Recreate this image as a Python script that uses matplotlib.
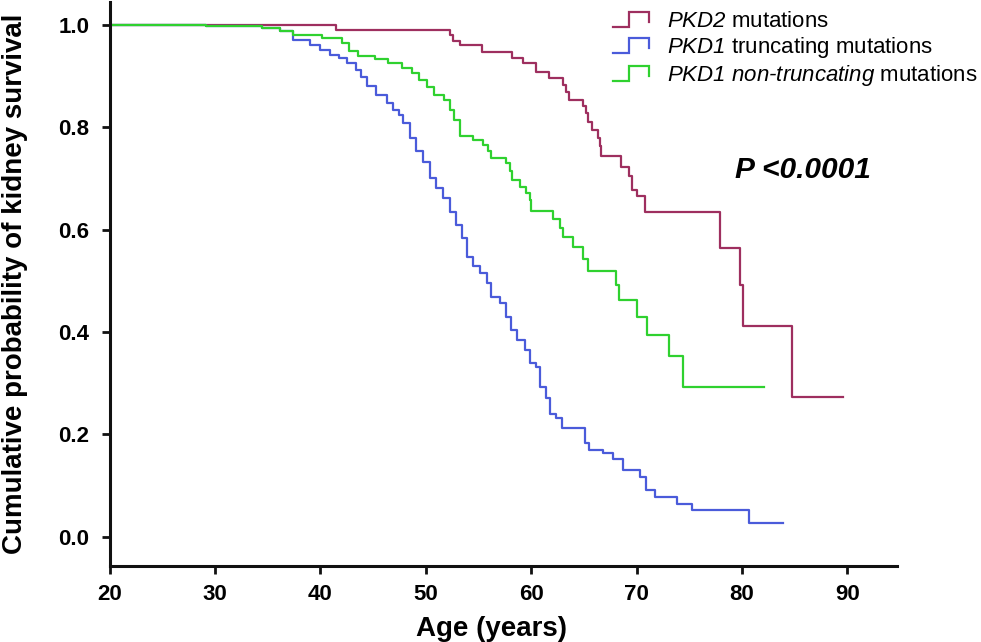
import matplotlib
matplotlib.use("Agg")
import matplotlib.pyplot as plt
from matplotlib.lines import Line2D
from matplotlib.legend_handler import HandlerBase

# ---------------- data ----------------
pkd2_age = [41.5, 52.3, 52.6, 53.2, 55.3, 58.2, 59.2, 60.5, 61.7, 63.0,
            63.3, 63.6, 64.9, 65.2, 65.4, 65.8, 66.3, 66.5, 66.6, 68.5,
            69.3, 69.6, 70.0, 70.8, 77.9, 79.8, 80.1, 84.7]
pkd2_surv = [0.991, 0.981, 0.968, 0.960, 0.947, 0.935, 0.925, 0.909, 0.896, 0.883,
             0.870, 0.854, 0.841, 0.828, 0.811, 0.795, 0.779, 0.763, 0.743, 0.723,
             0.704, 0.678, 0.665, 0.634, 0.564, 0.492, 0.411, 0.273]
pkd2_last = 89.6

trunc_age = [29.2, 34.5, 36.2, 37.4, 39.0, 40.0, 40.9, 41.8, 42.5, 43.4,
             43.9, 44.4, 45.3, 46.3, 46.9, 47.5, 47.8, 48.5, 49.1, 49.7,
             50.4, 51.0, 51.6, 52.3, 52.9, 53.4, 53.9, 54.5, 55.1, 55.8,
             56.2, 57.0, 57.6, 58.1, 58.7, 59.4, 59.9, 60.5, 60.8, 61.4,
             61.8, 62.4, 62.9, 65.1, 65.5, 66.8, 67.8, 68.7, 70.3, 70.9,
             71.7, 73.8, 75.3, 80.7]
trunc_surv = [0.998, 0.994, 0.988, 0.971, 0.961, 0.952, 0.942, 0.935, 0.925, 0.912,
              0.899, 0.880, 0.864, 0.847, 0.834, 0.825, 0.808, 0.779, 0.753, 0.733,
              0.701, 0.681, 0.662, 0.635, 0.609, 0.583, 0.547, 0.528, 0.515, 0.495,
              0.469, 0.456, 0.430, 0.404, 0.385, 0.365, 0.339, 0.332, 0.293, 0.270,
              0.240, 0.232, 0.212, 0.183, 0.170, 0.163, 0.151, 0.130, 0.117, 0.091,
              0.078, 0.064, 0.052, 0.026]
trunc_last = 83.9

nontrunc_age = [29.2, 34.5, 36.2, 37.4, 40.2, 42.1, 42.7, 43.6, 45.2, 46.4,
                47.7, 48.7, 49.4, 50.1, 50.8, 51.7, 52.3, 52.7, 53.2, 54.5,
                55.4, 55.9, 56.2, 57.6, 58.0, 58.2, 58.9, 59.5, 59.9, 60.0,
                62.1, 62.7, 63.0, 64.0, 64.9, 65.4, 68.0, 68.3, 70.0, 71.0,
                73.1, 74.4]
nontrunc_surv = [0.998, 0.994, 0.988, 0.981, 0.974, 0.964, 0.949, 0.940, 0.934, 0.925,
                 0.915, 0.907, 0.893, 0.879, 0.864, 0.853, 0.834, 0.815, 0.783, 0.776,
                 0.766, 0.753, 0.740, 0.730, 0.714, 0.697, 0.684, 0.671, 0.658, 0.637,
                 0.621, 0.603, 0.585, 0.566, 0.543, 0.520, 0.492, 0.463, 0.430, 0.394,
                 0.352, 0.293]
nontrunc_last = 82.1

start_age = 20
series_labels = [r"$\mathsf{PKD2}$ mutations",
                 r"$\mathsf{PKD1}$ truncating mutations",
                 "$\\mathsf{PKD1\\ non\u2010truncating}$ mutations"]
x_ticks = [20, 30, 40, 50, 60, 70, 80, 90]
y_ticks = [0.0, 0.2, 0.4, 0.6, 0.8, 1.0]
p_text = "P <0.0001"

# ---------------- style ----------------
plt.rcParams['font.family'] = ['Liberation Sans', 'DejaVu Sans']
plt.rcParams['mathtext.fontset'] = 'custom'
plt.rcParams['mathtext.rm'] = 'Liberation Sans'
plt.rcParams['mathtext.it'] = 'Liberation Sans:italic'
plt.rcParams['mathtext.sf'] = 'Liberation Sans:italic'
plt.rcParams['mathtext.bf'] = 'Liberation Sans:bold'

col_pkd2 = "#9e2f5f"
col_trunc = "#4a5bda"
col_nontrunc = "#2fd12f"
lw = 1.6


class HandlerStep(HandlerBase):
    def create_artists(self, legend, orig_handle, xdescent, ydescent,
                       width, height, fontsize, trans):
        x0, y0 = -xdescent, -ydescent
        xs = [x0, x0 + 0.45 * width, x0 + 0.45 * width, x0 + width, x0 + width]
        ys = [y0 + 0.05 * height, y0 + 0.05 * height, y0 + 0.95 * height,
              y0 + 0.95 * height, y0 + 0.35 * height]
        ln = Line2D(xs, ys, color=orig_handle.get_color(),
                    lw=orig_handle.get_linewidth(), solid_joinstyle='miter')
        ln.set_transform(trans)
        return [ln]


def km_xy(ages, surv, last):
    xs = [start_age] + list(ages) + [last]
    ys = [1.0] + list(surv) + [surv[-1]]
    return xs, ys


fig = plt.figure(figsize=(9.81, 6.42), dpi=100)
ax = fig.add_axes([109.5 / 981, 1 - 565.7 / 642, (897 - 109.5) / 981, (565.7 - 2) / 642])

handles = []
for ages, surv, last, c in [(pkd2_age, pkd2_surv, pkd2_last, col_pkd2),
                            (trunc_age, trunc_surv, trunc_last, col_trunc),
                            (nontrunc_age, nontrunc_surv, nontrunc_last, col_nontrunc)]:
    xs, ys = km_xy(ages, surv, last)
    h, = ax.step(xs, ys, where='post', color=c, lw=lw)
    handles.append(h)

ax.set_xlim(20, 94.7)
ax.set_ylim(-0.057, 1.045)
ax.set_xticks(x_ticks)
ax.set_yticks(y_ticks)
ax.set_yticklabels([f"{v:.1f}" for v in y_ticks])
for s in ['top', 'right']:
    ax.spines[s].set_visible(False)
for s in ['left', 'bottom']:
    ax.spines[s].set_linewidth(2.2)
    ax.spines[s].set_color('#111111')
ax.tick_params(axis='both', direction='out', length=6, width=2, color='#111111',
               labelsize=16)
ax.tick_params(axis='x', pad=7.5)
ax.tick_params(axis='y', pad=8.5)
for lab in ax.get_xticklabels() + ax.get_yticklabels():
    lab.set_fontweight('bold')

ax.set_xlabel("Age (years)", fontsize=20, fontweight='bold')
ax.xaxis.set_label_coords(0.485, -0.089)
ax.set_ylabel("Cumulative probability of kidney survival", fontsize=20,
              fontweight='bold')
ax.yaxis.set_label_coords(-0.104, 0.5)

leg = fig.legend(handles, series_labels, loc='upper left',
                 bbox_to_anchor=(613 / 981, 1 - 11 / 642), frameon=False,
                 fontsize=16, handlelength=1.6, handleheight=0.75,
                 handletextpad=0.85, labelspacing=0.14, borderpad=0,
                 borderaxespad=0,
                 handler_map={h: HandlerStep() for h in handles})

fig.text(735 / 981, 1 - 170 / 642, p_text, fontsize=21.5, fontweight='bold',
         fontstyle='italic', ha='left', va='center')

fig.savefig("out.png", dpi=100)
